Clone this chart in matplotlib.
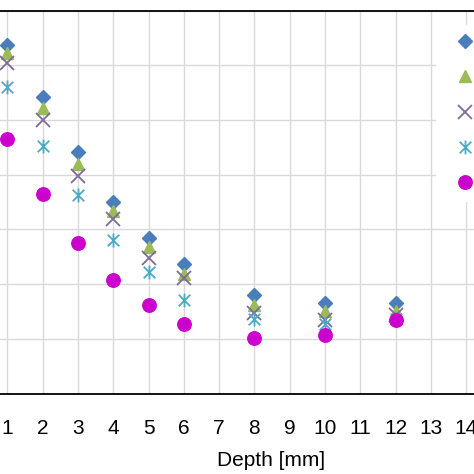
# Marker scatter of five series against depth; the picture is a crop, so the y axis and the
# legend labels sit partly outside the figure on purpose.
import numpy as np
import matplotlib
matplotlib.use("Agg")
import matplotlib.pyplot as plt
from matplotlib.path import Path

plt.rcParams["font.family"] = ["Liberation Sans", "DejaVu Sans"]

depth = [1, 2, 3, 4, 5, 6, 8, 10, 12]
s1 = [63.7, 54.2, 44.1, 35.1, 28.4, 23.7, 18.0, 16.5, 16.5]
s2 = [62.3, 52.2, 41.9, 33.4, 26.7, 21.8, 16.2, 15.0, 15.1]
s3 = [60.4, 50.0, 39.8, 32.0, 24.7, 21.1, 14.7, 13.4, 14.4]
s4 = [56.1, 45.2, 36.3, 28.1, 22.3, 17.1, 13.7, 12.8, 13.7]
s5 = [46.5, 36.4, 27.5, 20.7, 16.2, 12.8, 10.1, 10.7, 13.4]
labels = ["Series 1", "Series 2", "Series 3", "Series 4", "Series 5"]

# Excel style star: an X with a vertical bar
star = Path([(-1, -1), (1, 1), (-1, 1), (1, -1), (0, -1.2), (0, 1.2)],
            [Path.MOVETO, Path.LINETO, Path.MOVETO, Path.LINETO, Path.MOVETO, Path.LINETO])

fig = plt.figure(figsize=(4.74, 4.74), dpi=100)
ax = fig.add_axes([-28 / 474, 80.5 / 474, 529.5 / 474, 382.8 / 474])

ax.plot(depth, s1, ls="none", marker="D", ms=7.6, color="#4a7ebb", mec="#4a7ebb", label=labels[0], zorder=3)
ax.plot(depth, s2, ls="none", marker="^", ms=9, color="#9bbb59", mec="#9bbb59", label=labels[1], zorder=3)
ax.plot(depth, s3, ls="none", marker="x", ms=10, mew=1.3, color="#7f6a9c", label=labels[2], zorder=3)
ax.plot(depth, s4, ls="none", marker=star, ms=10, mew=1.3, color="#4bacc6", label=labels[3], zorder=3)
ax.plot(depth, s5, ls="none", marker="o", ms=9.7, color="#cc00cc", mec="#cc00cc", label=labels[4], zorder=3)

ax.set_xlim(0, 15)
ax.set_ylim(0, 70)
ax.set_xticks(range(1, 15))
ax.set_yticks(np.arange(0, 71, 10))
ax.tick_params(axis="both", length=0, labelsize=15, pad=18)
ax.grid(True, color="#d9d9d9", lw=1.0, zorder=0)
ax.set_axisbelow(True)
for side in ["left", "right"]:
    ax.spines[side].set_visible(False)
for side in ["top", "bottom"]:
    ax.spines[side].set_linewidth(1.3)
    ax.spines[side].set_color("black")

ax.set_xlabel("Depth [mm]", fontsize=15)
ax.xaxis.set_label_coords(299 / 529.5, -58 / 382.8)

leg = ax.legend(loc="upper left", bbox_to_anchor=(436 / 474, 1 - 25 / 474),
                bbox_transform=fig.transFigure, fontsize=15, frameon=True,
                facecolor="white", edgecolor="none", framealpha=1,
                borderpad=0.4, handlelength=2.0, handletextpad=0.5, labelspacing=0.78,
                borderaxespad=0)

fig.savefig("out.png", dpi=100)
